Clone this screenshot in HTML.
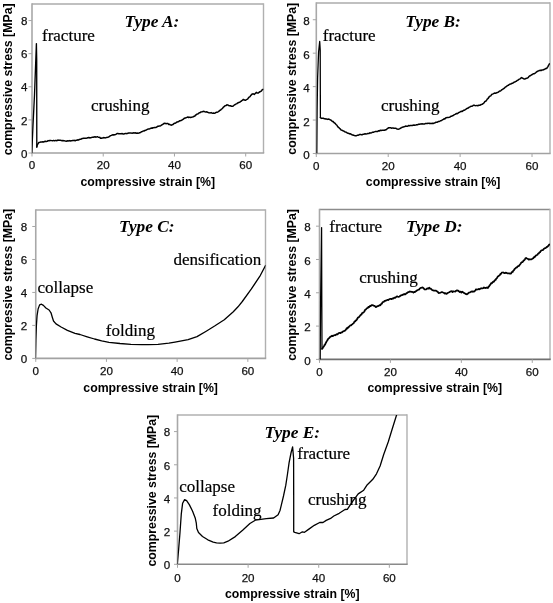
<!DOCTYPE html>
<html><head><meta charset="utf-8"><style>
html,body{margin:0;padding:0;background:#fff;}
svg{display:block;}
.tk{font-family:"Liberation Sans",Arial,sans-serif;font-size:11.6px;fill:#111;stroke:#111;stroke-width:0.25px;}
.ttl{font-family:"Liberation Sans",Arial,sans-serif;font-size:12.3px;font-weight:bold;fill:#000;}
.an{font-family:"Liberation Serif","Times New Roman",serif;font-size:17px;fill:#000;stroke:#000;stroke-width:0.2px;}
.ty{font-family:"Liberation Serif","Times New Roman",serif;font-size:17.3px;font-weight:bold;font-style:italic;fill:#000;}
</style></head><body>
<svg width="553" height="603" viewBox="0 0 553 603">
<rect width="553" height="603" fill="#fff"/>
<clipPath id="clipA"><rect x="32" y="4" width="231.5" height="149"/></clipPath>
<path d="M32.00,4.00H263.50" stroke="#ababab" stroke-width="1.4" fill="none"/>
<path d="M263.50,3.30V153.00" stroke="#b0b0b0" stroke-width="1.4" fill="none"/>
<path d="M32.00,3.30V153.80" stroke="#a8a8a8" stroke-width="1.6" fill="none"/>
<path d="M31.20,153.00H264.20" stroke="#a2a2a2" stroke-width="1.6" fill="none"/>
<path d="M28.50,153.00H32.00" stroke="#a6a6a6" stroke-width="1" fill="none"/>
<text x="27.50" y="157.70" class="tk" text-anchor="end">0</text>
<path d="M28.50,119.89H32.00" stroke="#a6a6a6" stroke-width="1" fill="none"/>
<text x="27.50" y="124.59" class="tk" text-anchor="end">2</text>
<path d="M28.50,86.78H32.00" stroke="#a6a6a6" stroke-width="1" fill="none"/>
<text x="27.50" y="91.48" class="tk" text-anchor="end">4</text>
<path d="M28.50,53.67H32.00" stroke="#a6a6a6" stroke-width="1" fill="none"/>
<text x="27.50" y="58.37" class="tk" text-anchor="end">6</text>
<path d="M28.50,20.56H32.00" stroke="#a6a6a6" stroke-width="1" fill="none"/>
<text x="27.50" y="25.26" class="tk" text-anchor="end">8</text>
<path d="M32.00,153.00V156.50" stroke="#a6a6a6" stroke-width="1" fill="none"/>
<text x="32.00" y="168.80" class="tk" text-anchor="middle">0</text>
<path d="M103.23,153.00V156.50" stroke="#a6a6a6" stroke-width="1" fill="none"/>
<text x="103.23" y="168.80" class="tk" text-anchor="middle">20</text>
<path d="M174.46,153.00V156.50" stroke="#a6a6a6" stroke-width="1" fill="none"/>
<text x="174.46" y="168.80" class="tk" text-anchor="middle">40</text>
<path d="M245.69,153.00V156.50" stroke="#a6a6a6" stroke-width="1" fill="none"/>
<text x="245.69" y="168.80" class="tk" text-anchor="middle">60</text>
<text x="147.75" y="185.50" class="ttl" text-anchor="middle">compressive strain [%]</text>
<text transform="translate(11.70,79.30) rotate(-90)" class="ttl" text-anchor="middle">compressive stress [MPa]</text>
<path d="M31.80,152.50 L33.00,125.00 L34.50,95.00 L36.40,43.60 L36.70,60.00 L36.80,147.00" stroke="#000" stroke-width="1.35" fill="none" stroke-linejoin="round" stroke-linecap="round" clip-path="url(#clipA)"/>
<path d="M36.80,147.00 L37.00,145.80 L37.20,145.00 L37.77,144.07 L38.33,143.30 L38.90,142.40 L39.85,142.22 L40.80,141.99 L41.75,142.10 L42.70,141.80 L43.60,141.96 L44.50,141.52 L45.40,141.29 L46.30,141.43 L47.20,141.28 L48.10,140.61 L49.00,140.80 L49.90,140.46 L50.80,140.49 L51.70,140.63 L52.60,140.81 L53.50,140.39 L54.40,140.85 L55.30,140.50 L56.15,140.49 L57.00,140.74 L57.85,140.12 L58.70,140.20 L59.55,140.29 L60.40,140.30 L61.23,140.39 L62.07,140.71 L62.90,140.44 L63.73,140.71 L64.57,140.86 L65.40,141.10 L66.20,141.23 L67.00,140.94 L67.80,140.76 L68.60,140.93 L69.40,140.60 L70.20,140.99 L71.00,140.79 L71.80,140.80 L72.63,140.60 L73.47,140.44 L74.30,140.33 L75.13,140.77 L75.97,140.29 L76.80,140.30 L77.65,139.82 L78.50,140.01 L79.35,139.43 L80.20,139.20 L81.05,139.21 L81.90,138.60 L82.75,138.58 L83.60,138.17 L84.45,138.14 L85.30,138.18 L86.15,138.20 L87.00,138.00 L87.90,137.68 L88.80,137.47 L89.70,137.95 L90.60,137.72 L91.50,137.54 L92.40,137.17 L93.30,137.30 L94.14,136.92 L94.98,136.76 L95.82,137.20 L96.66,136.89 L97.50,136.70 L98.26,137.24 L99.02,137.38 L99.78,137.37 L100.54,138.21 L101.30,138.20 L102.10,137.93 L102.90,138.00 L103.70,137.56 L104.50,137.86 L105.30,137.91 L106.10,137.57 L106.90,137.42 L107.70,137.30 L108.46,137.08 L109.22,136.64 L109.98,135.93 L110.74,135.64 L111.50,135.40 L112.29,134.91 L113.08,134.66 L113.86,134.96 L114.65,134.67 L115.44,134.50 L116.22,134.09 L117.01,133.56 L117.80,133.50 L118.63,133.79 L119.47,133.74 L120.30,133.80 L121.13,133.86 L121.97,133.57 L122.80,133.90 L123.65,133.99 L124.50,133.74 L125.35,133.61 L126.20,133.56 L127.05,133.63 L127.90,133.20 L128.75,132.94 L129.60,133.07 L130.45,132.90 L131.30,133.11 L132.15,133.28 L133.00,132.90 L133.83,132.82 L134.67,132.94 L135.50,132.73 L136.33,133.35 L137.17,133.07 L138.00,133.20 L138.85,133.00 L139.70,132.68 L140.55,132.42 L141.40,131.82 L142.25,131.61 L143.10,131.00 L143.95,131.00 L144.80,130.52 L145.65,130.26 L146.50,129.79 L147.35,129.34 L148.20,129.10 L148.99,128.95 L149.77,128.73 L150.56,128.34 L151.35,128.02 L152.14,128.32 L152.93,127.71 L153.71,127.80 L154.50,127.50 L155.29,127.59 L156.07,127.41 L156.86,127.01 L157.64,126.36 L158.43,126.21 L159.21,126.04 L160.00,126.10 L160.76,125.68 L161.52,125.13 L162.28,124.57 L163.04,124.27 L163.80,123.50 L164.87,123.21 L165.93,123.65 L167.00,123.50 L167.88,123.59 L168.76,124.46 L169.64,124.27 L170.52,124.84 L171.40,125.20 L172.13,124.77 L172.86,124.57 L173.59,123.91 L174.31,123.35 L175.04,123.35 L175.77,122.89 L176.50,122.30 L177.26,121.95 L178.02,121.86 L178.78,121.47 L179.54,120.81 L180.30,120.80 L181.04,120.41 L181.78,120.20 L182.52,119.61 L183.26,119.30 L184.00,118.50 L184.76,118.04 L185.52,118.04 L186.28,117.63 L187.04,117.32 L187.80,117.00 L188.67,117.48 L189.53,117.14 L190.40,117.50 L191.35,117.17 L192.30,117.00 L193.25,116.69 L194.20,116.30 L194.91,116.03 L195.63,115.05 L196.34,114.79 L197.06,114.01 L197.77,113.98 L198.49,113.52 L199.20,112.80 L199.96,112.78 L200.72,111.96 L201.48,111.90 L202.24,111.69 L203.00,111.50 L203.95,111.36 L204.90,111.73 L205.85,112.07 L206.80,111.80 L207.67,112.28 L208.53,112.64 L209.40,112.80 L210.23,112.90 L211.07,112.59 L211.90,112.99 L212.73,113.14 L213.57,113.00 L214.40,113.20 L215.30,112.97 L216.20,112.33 L217.10,112.24 L218.00,111.80 L218.67,111.42 L219.33,110.84 L220.00,110.28 L220.67,109.97 L221.33,109.23 L222.00,108.80 L222.60,108.26 L223.20,107.43 L223.80,106.92 L224.40,106.33 L225.00,105.80 L225.95,105.59 L226.90,104.80 L227.73,104.90 L228.57,105.44 L229.40,105.80 L230.40,105.77 L231.40,106.25 L232.40,106.30 L233.23,106.13 L234.07,105.10 L234.90,104.80 L235.65,104.16 L236.40,103.87 L237.15,103.53 L237.90,102.80 L238.65,102.70 L239.40,102.14 L240.15,101.99 L240.90,101.30 L241.73,100.75 L242.57,100.15 L243.40,99.40 L244.35,100.06 L245.30,100.30 L246.13,99.81 L246.97,99.40 L247.80,98.90 L248.40,97.91 L249.00,97.16 L249.60,96.80 L250.20,96.32 L250.80,95.40 L251.55,94.66 L252.30,93.90 L253.30,93.85 L254.30,94.40 L254.97,93.75 L255.63,93.17 L256.30,92.40 L257.30,93.03 L258.30,93.10 L259.13,92.24 L259.97,91.76 L260.80,91.40 L261.57,90.61 L262.33,89.77 L263.10,89.40" stroke="#000" stroke-width="1.5" fill="none" stroke-linejoin="round" stroke-linecap="round" clip-path="url(#clipA)"/>
<clipPath id="clipB"><rect x="316.3" y="3" width="233.7" height="150.5"/></clipPath>
<path d="M316.30,3.00H550.00" stroke="#ababab" stroke-width="1.4" fill="none"/>
<path d="M550.00,2.30V153.50" stroke="#b0b0b0" stroke-width="1.4" fill="none"/>
<path d="M316.30,2.30V154.30" stroke="#a8a8a8" stroke-width="1.6" fill="none"/>
<path d="M315.50,153.50H550.70" stroke="#a2a2a2" stroke-width="1.6" fill="none"/>
<path d="M312.80,153.50H316.30" stroke="#a6a6a6" stroke-width="1" fill="none"/>
<text x="309.80" y="159.10" class="tk" text-anchor="end">0</text>
<path d="M312.80,120.06H316.30" stroke="#a6a6a6" stroke-width="1" fill="none"/>
<text x="309.80" y="125.66" class="tk" text-anchor="end">2</text>
<path d="M312.80,86.61H316.30" stroke="#a6a6a6" stroke-width="1" fill="none"/>
<text x="309.80" y="92.21" class="tk" text-anchor="end">4</text>
<path d="M312.80,53.17H316.30" stroke="#a6a6a6" stroke-width="1" fill="none"/>
<text x="309.80" y="58.77" class="tk" text-anchor="end">6</text>
<path d="M312.80,19.72H316.30" stroke="#a6a6a6" stroke-width="1" fill="none"/>
<text x="309.80" y="25.32" class="tk" text-anchor="end">8</text>
<path d="M316.30,153.50V157.00" stroke="#a6a6a6" stroke-width="1" fill="none"/>
<text x="316.30" y="169.80" class="tk" text-anchor="middle">0</text>
<path d="M388.21,153.50V157.00" stroke="#a6a6a6" stroke-width="1" fill="none"/>
<text x="388.21" y="169.80" class="tk" text-anchor="middle">20</text>
<path d="M460.12,153.50V157.00" stroke="#a6a6a6" stroke-width="1" fill="none"/>
<text x="460.12" y="169.80" class="tk" text-anchor="middle">40</text>
<path d="M532.02,153.50V157.00" stroke="#a6a6a6" stroke-width="1" fill="none"/>
<text x="532.02" y="169.80" class="tk" text-anchor="middle">60</text>
<text x="433.15" y="186.00" class="ttl" text-anchor="middle">compressive strain [%]</text>
<text transform="translate(295.90,78.75) rotate(-90)" class="ttl" text-anchor="middle">compressive stress [MPa]</text>
<path d="M316.80,153.00 L317.10,110.00 L317.60,78.00 L318.60,52.00 L319.70,41.50 L320.20,50.00 L320.40,117.70" stroke="#000" stroke-width="1.3" fill="none" stroke-linejoin="round" stroke-linecap="round" clip-path="url(#clipB)"/>
<path d="M320.40,117.70 L321.70,118.40 L322.50,118.18 L323.30,118.23 L324.10,118.66 L324.90,118.70 L325.73,119.11 L326.57,119.04 L327.40,119.42 L328.23,119.10 L329.07,119.27 L329.90,119.60 L330.66,120.06 L331.42,120.37 L332.18,121.43 L332.94,121.38 L333.70,122.20 L334.35,122.89 L335.00,123.21 L335.65,123.99 L336.30,124.70 L336.93,125.25 L337.57,126.51 L338.20,127.20 L338.82,127.57 L339.44,128.20 L340.06,128.81 L340.68,129.59 L341.30,130.00 L342.15,130.32 L343.00,130.70 L343.85,131.05 L344.70,131.74 L345.55,132.11 L346.40,132.30 L347.23,132.94 L348.07,133.15 L348.90,133.47 L349.73,133.91 L350.57,133.74 L351.40,134.40 L352.16,134.97 L352.92,134.95 L353.68,135.20 L354.44,135.64 L355.20,135.80 L356.15,135.81 L357.10,135.37 L358.05,135.32 L359.00,134.80 L359.85,134.48 L360.70,134.50 L361.55,134.70 L362.40,134.69 L363.25,134.15 L364.10,134.20 L365.05,133.73 L366.00,133.95 L366.95,133.78 L367.90,133.50 L368.85,133.58 L369.80,132.84 L370.75,132.91 L371.70,132.70 L372.55,132.28 L373.40,132.29 L374.25,131.88 L375.10,131.60 L375.95,131.59 L376.80,131.40 L377.60,131.46 L378.40,130.69 L379.20,130.99 L380.00,130.50 L380.88,130.20 L381.76,130.40 L382.64,130.15 L383.52,130.33 L384.40,130.30 L385.15,129.96 L385.90,129.78 L386.65,129.32 L387.40,128.55 L388.15,128.05 L388.90,127.70 L389.73,127.80 L390.57,127.64 L391.40,128.26 L392.23,128.02 L393.07,128.04 L393.90,128.20 L394.75,128.36 L395.60,128.13 L396.45,128.71 L397.30,128.99 L398.15,129.19 L399.00,129.00 L399.83,128.66 L400.67,128.05 L401.50,127.69 L402.33,127.27 L403.17,127.08 L404.00,126.70 L404.80,126.52 L405.60,126.08 L406.40,126.33 L407.20,126.27 L408.00,125.94 L408.80,125.46 L409.60,125.85 L410.40,125.40 L411.30,125.59 L412.20,125.52 L413.10,125.25 L414.00,125.00 L414.90,125.15 L415.80,125.06 L416.70,124.80 L417.60,124.85 L418.50,124.24 L419.40,124.34 L420.30,124.06 L421.20,124.00 L422.10,123.77 L423.00,123.90 L423.85,123.88 L424.70,123.94 L425.55,123.53 L426.40,123.60 L427.25,123.50 L428.10,123.20 L428.95,123.39 L429.80,123.26 L430.65,123.42 L431.50,123.53 L432.35,123.23 L433.20,123.50 L434.03,123.09 L434.87,123.00 L435.70,122.23 L436.53,122.15 L437.37,122.20 L438.20,121.60 L439.05,121.57 L439.90,121.16 L440.75,120.70 L441.60,120.47 L442.45,119.92 L443.30,119.40 L444.06,118.77 L444.82,118.95 L445.58,118.03 L446.34,117.72 L447.10,117.60 L448.10,117.54 L449.10,117.38 L450.10,117.00 L450.81,116.29 L451.53,116.36 L452.24,115.79 L452.96,115.65 L453.67,115.18 L454.39,114.63 L455.10,114.40 L455.83,113.91 L456.56,113.50 L457.29,113.65 L458.01,113.17 L458.74,112.59 L459.47,112.19 L460.20,111.90 L461.05,111.34 L461.90,111.47 L462.75,111.03 L463.60,110.32 L464.45,110.23 L465.30,109.60 L466.01,109.15 L466.73,108.66 L467.44,108.27 L468.16,108.12 L468.87,107.37 L469.59,107.12 L470.30,106.60 L471.06,106.31 L471.82,106.26 L472.58,106.10 L473.34,105.29 L474.10,105.30 L475.05,105.53 L476.00,105.63 L476.95,105.48 L477.90,105.80 L478.75,105.24 L479.60,105.36 L480.45,105.03 L481.30,104.38 L482.15,104.30 L483.00,103.70 L483.63,103.28 L484.27,102.60 L484.90,101.48 L485.53,101.33 L486.17,100.83 L486.80,99.90 L487.33,99.00 L487.87,98.64 L488.40,98.11 L488.93,97.14 L489.47,96.57 L490.00,96.10 L490.77,95.86 L491.55,94.70 L492.33,94.11 L493.10,93.90 L493.95,93.34 L494.80,93.04 L495.65,93.23 L496.50,92.81 L497.35,92.53 L498.20,92.30 L498.91,91.67 L499.63,91.04 L500.34,91.05 L501.06,90.50 L501.77,89.70 L502.49,89.54 L503.20,88.90 L503.93,88.53 L504.66,87.88 L505.39,87.02 L506.11,86.79 L506.84,86.08 L507.57,85.49 L508.30,85.30 L509.10,84.70 L509.90,84.15 L510.70,84.07 L511.50,83.55 L512.30,83.23 L513.10,82.93 L513.90,82.30 L514.70,82.05 L515.50,81.57 L516.30,81.36 L517.10,80.40 L517.90,80.30 L518.60,79.58 L519.30,79.18 L520.00,78.80 L520.70,78.36 L521.40,77.60 L522.23,78.00 L523.07,78.39 L523.90,79.00 L524.90,78.98 L525.90,78.40 L526.90,78.30 L527.55,77.92 L528.20,77.64 L528.85,76.54 L529.50,76.03 L530.15,75.82 L530.80,75.30 L531.60,74.82 L532.40,74.50 L533.20,73.87 L534.00,73.80 L534.80,73.30 L535.60,72.85 L536.40,72.03 L537.20,71.46 L538.00,71.06 L538.80,70.80 L539.60,70.44 L540.40,70.17 L541.20,70.51 L542.00,69.98 L542.80,70.00 L543.60,69.77 L544.40,69.20 L545.20,68.98 L546.00,68.41 L546.80,68.40 L547.23,67.46 L547.67,67.02 L548.10,66.26 L548.53,65.25 L548.97,64.67 L549.40,63.90" stroke="#000" stroke-width="1.5" fill="none" stroke-linejoin="round" stroke-linecap="round" clip-path="url(#clipB)"/>
<clipPath id="clipC"><rect x="35.75" y="210" width="229.75" height="148.39999999999998"/></clipPath>
<path d="M35.75,210.00H265.50" stroke="#ababab" stroke-width="1.4" fill="none"/>
<path d="M265.50,209.30V358.40" stroke="#b0b0b0" stroke-width="1.4" fill="none"/>
<path d="M35.75,209.30V359.20" stroke="#a8a8a8" stroke-width="1.6" fill="none"/>
<path d="M34.95,358.40H266.20" stroke="#a2a2a2" stroke-width="1.6" fill="none"/>
<path d="M32.25,358.40H35.75" stroke="#a6a6a6" stroke-width="1" fill="none"/>
<text x="27.30" y="363.00" class="tk" text-anchor="end">0</text>
<path d="M32.25,325.42H35.75" stroke="#a6a6a6" stroke-width="1" fill="none"/>
<text x="27.30" y="330.02" class="tk" text-anchor="end">2</text>
<path d="M32.25,292.44H35.75" stroke="#a6a6a6" stroke-width="1" fill="none"/>
<text x="27.30" y="297.04" class="tk" text-anchor="end">4</text>
<path d="M32.25,259.47H35.75" stroke="#a6a6a6" stroke-width="1" fill="none"/>
<text x="27.30" y="264.07" class="tk" text-anchor="end">6</text>
<path d="M32.25,226.49H35.75" stroke="#a6a6a6" stroke-width="1" fill="none"/>
<text x="27.30" y="231.09" class="tk" text-anchor="end">8</text>
<path d="M35.75,358.40V361.90" stroke="#a6a6a6" stroke-width="1" fill="none"/>
<text x="35.75" y="374.70" class="tk" text-anchor="middle">0</text>
<path d="M106.44,358.40V361.90" stroke="#a6a6a6" stroke-width="1" fill="none"/>
<text x="106.44" y="374.70" class="tk" text-anchor="middle">20</text>
<path d="M177.13,358.40V361.90" stroke="#a6a6a6" stroke-width="1" fill="none"/>
<text x="177.13" y="374.70" class="tk" text-anchor="middle">40</text>
<path d="M247.83,358.40V361.90" stroke="#a6a6a6" stroke-width="1" fill="none"/>
<text x="247.83" y="374.70" class="tk" text-anchor="middle">60</text>
<text x="150.62" y="391.80" class="ttl" text-anchor="middle">compressive strain [%]</text>
<text transform="translate(11.70,284.70) rotate(-90)" class="ttl" text-anchor="middle">compressive stress [MPa]</text>
<path d="M35.40,357.70 L35.80,340.60 L36.40,325.40 L37.10,315.30 L38.10,309.00 L39.60,304.90 L41.50,304.20 L43.40,305.40 L45.90,308.00 L49.10,310.00 L51.00,312.80 L52.30,317.20 L53.50,321.00 L56.00,323.90 L61.10,327.00 L67.40,330.30 L75.00,333.30 L80.00,334.50 L87.20,336.80 L94.50,339.00 L101.70,340.90 L109.00,342.30 L120.00,343.50 L130.90,344.30 L141.70,344.70 L148.30,344.70 L158.00,344.30 L168.90,343.20 L175.00,342.10 L188.10,339.60 L197.00,336.60 L206.20,331.20 L215.00,325.80 L224.30,319.80 L233.30,311.80 L238.00,306.80 L242.30,301.50 L251.40,288.90 L260.40,275.30 L265.50,265.50" stroke="#000" stroke-width="1.3" fill="none" stroke-linejoin="round" stroke-linecap="round" clip-path="url(#clipC)"/>
<clipPath id="clipD"><rect x="319.5" y="209.5" width="230.5" height="149.89999999999998"/></clipPath>
<path d="M319.50,209.50H550.00" stroke="#8c8c8c" stroke-width="1.4" fill="none"/>
<path d="M550.00,208.80V359.40" stroke="#b4b4b4" stroke-width="1.4" fill="none"/>
<path d="M319.50,208.80V360.20" stroke="#a8a8a8" stroke-width="1.6" fill="none"/>
<path d="M318.70,359.40H550.70" stroke="#707070" stroke-width="1.6" fill="none"/>
<path d="M316.00,359.40H319.50" stroke="#a6a6a6" stroke-width="1" fill="none"/>
<text x="310.80" y="364.50" class="tk" text-anchor="end">0</text>
<path d="M316.00,326.09H319.50" stroke="#a6a6a6" stroke-width="1" fill="none"/>
<text x="310.80" y="331.19" class="tk" text-anchor="end">2</text>
<path d="M316.00,292.78H319.50" stroke="#a6a6a6" stroke-width="1" fill="none"/>
<text x="310.80" y="297.88" class="tk" text-anchor="end">4</text>
<path d="M316.00,259.47H319.50" stroke="#a6a6a6" stroke-width="1" fill="none"/>
<text x="310.80" y="264.57" class="tk" text-anchor="end">6</text>
<path d="M316.00,226.16H319.50" stroke="#a6a6a6" stroke-width="1" fill="none"/>
<text x="310.80" y="231.26" class="tk" text-anchor="end">8</text>
<path d="M319.50,359.40V362.90" stroke="#a6a6a6" stroke-width="1" fill="none"/>
<text x="319.50" y="376.20" class="tk" text-anchor="middle">0</text>
<path d="M390.42,359.40V362.90" stroke="#a6a6a6" stroke-width="1" fill="none"/>
<text x="390.42" y="376.20" class="tk" text-anchor="middle">20</text>
<path d="M461.35,359.40V362.90" stroke="#a6a6a6" stroke-width="1" fill="none"/>
<text x="461.35" y="376.20" class="tk" text-anchor="middle">40</text>
<path d="M532.27,359.40V362.90" stroke="#a6a6a6" stroke-width="1" fill="none"/>
<text x="532.27" y="376.20" class="tk" text-anchor="middle">60</text>
<text x="434.75" y="391.90" class="ttl" text-anchor="middle">compressive strain [%]</text>
<text transform="translate(295.70,284.95) rotate(-90)" class="ttl" text-anchor="middle">compressive stress [MPa]</text>
<path d="M320.20,359.00 L320.60,300.00 L321.60,227.60 L321.80,300.00 L322.00,348.80" stroke="#000" stroke-width="1.25" fill="none" stroke-linejoin="round" stroke-linecap="round" clip-path="url(#clipD)"/>
<path d="M322.00,348.80 L322.57,348.29 L323.13,347.03 L323.70,346.70 L324.12,345.88 L324.54,344.97 L324.96,344.89 L325.38,343.81 L325.80,342.90 L326.24,342.27 L326.68,341.25 L327.12,340.72 L327.56,340.03 L328.00,339.10 L328.66,338.39 L329.32,337.92 L329.98,337.11 L330.64,336.49 L331.30,336.30 L332.07,335.73 L332.84,336.16 L333.61,335.54 L334.39,335.18 L335.16,335.25 L335.93,334.71 L336.70,334.20 L337.47,334.27 L338.24,333.55 L339.01,333.02 L339.79,332.77 L340.56,333.20 L341.33,332.44 L342.10,332.30 L342.83,331.59 L343.57,331.19 L344.30,330.90 L344.90,330.78 L345.50,330.06 L346.10,329.38 L346.70,328.25 L347.30,328.52 L347.90,327.44 L348.50,327.58 L349.10,326.63 L349.70,326.00 L350.38,325.29 L351.05,325.34 L351.73,324.65 L352.40,324.17 L353.07,323.60 L353.75,323.09 L354.43,321.63 L355.10,321.50 L355.65,320.36 L356.20,320.41 L356.75,319.68 L357.30,318.79 L357.85,317.64 L358.40,317.40 L359.01,317.10 L359.63,316.21 L360.24,315.43 L360.86,314.71 L361.47,314.55 L362.09,313.20 L362.70,313.00 L363.25,312.48 L363.80,312.09 L364.35,311.63 L364.90,310.11 L365.45,309.77 L366.00,309.38 L366.55,308.56 L367.10,308.10 L367.82,307.94 L368.53,306.78 L369.25,307.05 L369.97,305.82 L370.68,306.09 L371.40,305.20 L372.25,305.20 L373.10,305.38 L373.95,305.78 L374.80,305.94 L375.65,307.06 L376.50,306.90 L377.26,306.10 L378.02,306.15 L378.78,305.82 L379.54,305.19 L380.30,305.30 L380.84,304.43 L381.38,303.70 L381.92,303.74 L382.46,302.44 L383.00,302.00 L383.73,301.83 L384.47,300.95 L385.20,300.89 L385.93,300.44 L386.67,300.46 L387.40,299.80 L388.26,300.01 L389.12,299.32 L389.98,298.92 L390.84,298.80 L391.70,299.10 L392.56,298.39 L393.42,298.52 L394.28,297.58 L395.14,297.93 L396.00,297.10 L396.88,296.34 L397.76,296.66 L398.64,296.81 L399.52,296.47 L400.40,295.80 L401.17,295.33 L401.94,295.17 L402.71,294.70 L403.49,294.57 L404.26,294.01 L405.03,294.40 L405.80,293.90 L406.56,293.13 L407.32,292.89 L408.08,292.02 L408.84,292.17 L409.60,291.50 L410.55,291.59 L411.50,291.92 L412.45,291.86 L413.40,292.60 L414.12,291.92 L414.83,292.19 L415.55,291.47 L416.27,291.03 L416.98,290.29 L417.70,290.10 L418.43,289.71 L419.17,289.62 L419.90,288.37 L420.63,287.91 L421.37,287.88 L422.10,287.40 L422.90,287.59 L423.70,288.45 L424.50,289.30 L425.30,289.50 L426.10,289.44 L426.90,288.65 L427.70,288.30 L428.50,288.54 L429.30,287.70 L430.03,288.57 L430.77,288.60 L431.50,289.50 L432.36,290.16 L433.22,290.38 L434.08,290.65 L434.94,290.68 L435.80,290.60 L436.50,290.93 L437.20,291.50 L437.90,292.03 L438.60,293.10 L439.55,292.97 L440.50,292.75 L441.45,292.13 L442.40,292.20 L443.16,292.55 L443.92,292.82 L444.68,293.51 L445.44,293.24 L446.20,293.90 L446.96,293.58 L447.72,293.00 L448.48,292.58 L449.24,292.18 L450.00,291.70 L450.86,291.26 L451.72,291.23 L452.58,291.98 L453.44,291.27 L454.30,291.50 L455.20,291.56 L456.10,290.77 L457.00,290.40 L457.90,290.56 L458.80,291.21 L459.70,292.00 L460.52,291.67 L461.35,292.51 L462.18,291.74 L463.00,292.30 L463.80,292.86 L464.60,293.25 L465.40,293.68 L466.20,294.20 L466.93,294.30 L467.67,293.75 L468.40,293.07 L469.13,292.49 L469.87,292.33 L470.60,292.00 L471.40,291.48 L472.20,291.81 L473.00,291.35 L473.80,291.70 L474.35,291.50 L474.90,290.94 L475.45,290.24 L476.00,289.30 L476.86,289.54 L477.72,289.50 L478.58,288.97 L479.44,289.35 L480.30,288.80 L481.23,288.23 L482.15,288.47 L483.07,288.22 L484.00,287.40 L484.98,287.93 L485.95,288.03 L486.92,287.47 L487.90,288.10 L488.35,287.08 L488.80,286.60 L489.25,286.11 L489.70,285.27 L490.15,284.89 L490.60,284.10 L491.25,283.08 L491.90,283.39 L492.55,282.31 L493.20,281.69 L493.85,281.81 L494.50,280.80 L495.07,279.84 L495.64,279.85 L496.21,278.53 L496.79,278.46 L497.36,277.25 L497.93,276.37 L498.50,276.20 L499.15,275.47 L499.80,275.21 L500.45,273.90 L501.10,273.81 L501.75,272.63 L502.40,272.50 L503.20,272.41 L504.00,272.89 L504.80,273.22 L505.60,272.65 L506.40,272.90 L507.32,273.30 L508.24,273.36 L509.16,273.39 L510.08,273.69 L511.00,273.60 L511.57,272.48 L512.15,271.92 L512.73,272.01 L513.30,270.51 L513.88,270.39 L514.45,269.21 L515.02,268.70 L515.60,268.30 L516.27,267.42 L516.93,267.48 L517.60,266.48 L518.27,266.09 L518.93,265.88 L519.60,265.00 L520.17,264.27 L520.74,263.44 L521.31,262.56 L521.89,262.03 L522.46,262.18 L523.03,261.51 L523.60,260.40 L524.25,260.28 L524.90,259.49 L525.55,258.12 L526.20,258.00 L527.07,258.63 L527.93,258.76 L528.80,259.70 L529.60,259.24 L530.40,259.48 L531.20,259.37 L532.00,259.00 L532.80,258.40 L533.47,258.09 L534.13,256.92 L534.80,257.13 L535.47,255.97 L536.13,255.34 L536.80,255.10 L537.45,254.75 L538.10,253.66 L538.75,253.51 L539.40,252.36 L540.05,252.22 L540.70,251.10 L541.46,250.32 L542.21,250.22 L542.97,250.10 L543.73,248.92 L544.49,248.38 L545.24,248.18 L546.00,247.80 L546.66,246.97 L547.32,246.86 L547.98,246.11 L548.64,245.51 L549.30,244.50" stroke="#000" stroke-width="1.75" fill="none" stroke-linejoin="round" stroke-linecap="round" clip-path="url(#clipD)"/>
<clipPath id="clipE"><rect x="177.5" y="415" width="229.5" height="149.29999999999995"/></clipPath>
<path d="M177.50,415.00H407.00" stroke="#b0b0b0" stroke-width="1.4" fill="none"/>
<path d="M407.00,414.30V564.30" stroke="#b0b0b0" stroke-width="1.4" fill="none"/>
<path d="M177.50,414.30V565.10" stroke="#a8a8a8" stroke-width="1.6" fill="none"/>
<path d="M176.70,564.30H407.70" stroke="#8a8a8a" stroke-width="1.6" fill="none"/>
<path d="M174.00,564.30H177.50" stroke="#a6a6a6" stroke-width="1" fill="none"/>
<text x="170.30" y="569.20" class="tk" text-anchor="end">0</text>
<path d="M174.00,531.12H177.50" stroke="#a6a6a6" stroke-width="1" fill="none"/>
<text x="170.30" y="536.02" class="tk" text-anchor="end">2</text>
<path d="M174.00,497.94H177.50" stroke="#a6a6a6" stroke-width="1" fill="none"/>
<text x="170.30" y="502.84" class="tk" text-anchor="end">4</text>
<path d="M174.00,464.77H177.50" stroke="#a6a6a6" stroke-width="1" fill="none"/>
<text x="170.30" y="469.67" class="tk" text-anchor="end">6</text>
<path d="M174.00,431.59H177.50" stroke="#a6a6a6" stroke-width="1" fill="none"/>
<text x="170.30" y="436.49" class="tk" text-anchor="end">8</text>
<path d="M177.50,564.30V567.80" stroke="#a6a6a6" stroke-width="1" fill="none"/>
<text x="177.50" y="582.30" class="tk" text-anchor="middle">0</text>
<path d="M248.12,564.30V567.80" stroke="#a6a6a6" stroke-width="1" fill="none"/>
<text x="248.12" y="582.30" class="tk" text-anchor="middle">20</text>
<path d="M318.73,564.30V567.80" stroke="#a6a6a6" stroke-width="1" fill="none"/>
<text x="318.73" y="582.30" class="tk" text-anchor="middle">40</text>
<path d="M389.35,564.30V567.80" stroke="#a6a6a6" stroke-width="1" fill="none"/>
<text x="389.35" y="582.30" class="tk" text-anchor="middle">60</text>
<text x="292.25" y="597.70" class="ttl" text-anchor="middle">compressive strain [%]</text>
<text transform="translate(155.60,490.65) rotate(-90)" class="ttl" text-anchor="middle">compressive stress [MPa]</text>
<path d="M177.30,563.70 L178.60,549.70 L180.00,532.50 L181.30,513.90 L182.60,503.30 L184.60,499.60 L186.60,500.60 L189.30,504.60 L192.60,511.20 L195.20,517.90 L196.30,523.20 L196.80,528.50 L198.50,532.50 L202.50,536.50 L207.80,539.80 L213.20,542.10 L216.50,542.90 L220.00,543.20 L223.80,542.80 L228.00,541.20 L235.30,536.60 L242.60,530.20 L249.90,523.50 L255.30,520.20 L260.80,519.30 L266.30,518.70 L273.60,518.00 L278.10,514.70 L280.00,510.50 L281.20,505.60 L283.50,496.00 L285.80,485.20 L287.50,474.00 L289.10,462.60 L291.00,453.00 L292.60,446.80 L293.60,458.20 L293.70,500.00 L293.70,531.80 L294.80,532.30 L299.10,533.70 L302.40,531.80 L304.50,532.30 L308.90,529.10 L314.30,525.30 L319.70,522.50 L323.00,522.50 L326.20,520.40 L330.60,518.40 L333.80,516.00 L339.20,513.30 L345.00,509.50 L347.30,509.30 L352.80,501.10 L358.20,493.90 L363.70,490.20 L367.30,484.70 L372.80,479.30 L376.50,473.80 L380.10,466.00 L383.70,454.50 L388.30,441.80 L391.90,430.00 L394.70,421.00 L396.90,414.00 L397.50,412.00" stroke="#000" stroke-width="1.3" fill="none" stroke-linejoin="round" stroke-linecap="round" clip-path="url(#clipE)"/>
<text x="42" y="40.8" class="an">fracture</text>
<text x="124.5" y="27.1" class="ty">Type A:</text>
<text x="91" y="111.4" class="an">crushing</text>
<text x="322.75" y="40.8" class="an">fracture</text>
<text x="405.3" y="27.0" class="ty">Type B:</text>
<text x="381" y="111.0" class="an">crushing</text>
<text x="37.5" y="292.9" class="an">collapse</text>
<text x="119" y="232.4" class="ty">Type C:</text>
<text x="173.5" y="265.4" class="an">densification</text>
<text x="105.8" y="336.2" class="an">folding</text>
<text x="329.25" y="232.4" class="an">fracture</text>
<text x="406" y="232.4" class="ty">Type D:</text>
<text x="359.25" y="282.9" class="an">crushing</text>
<text x="179.25" y="492.4" class="an">collapse</text>
<text x="264.5" y="438.4" class="ty">Type E:</text>
<text x="297.25" y="459.15" class="an">fracture</text>
<text x="212.5" y="516.4" class="an">folding</text>
<text x="308" y="505.4" class="an">crushing</text>
</svg>
</body></html>
